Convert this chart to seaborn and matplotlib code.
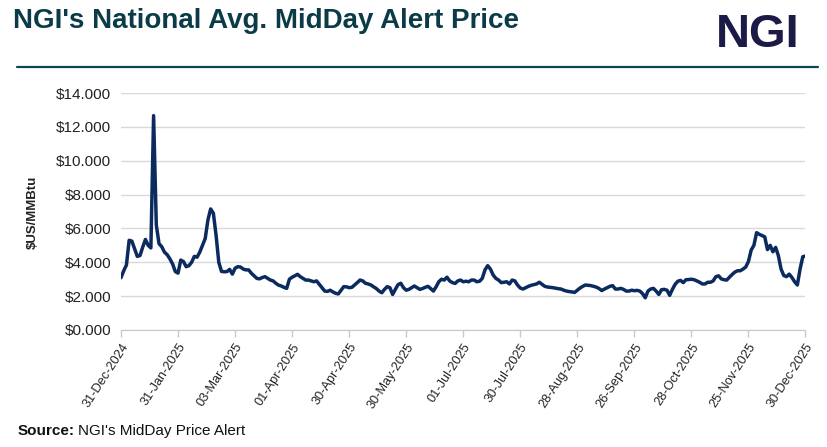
"""
NGI's National Avg. MidDay Alert Price - daily line chart
"""

import matplotlib
matplotlib.use("Agg")
import matplotlib.pyplot as plt
from matplotlib.lines import Line2D
from matplotlib import font_manager
import seaborn as sns
import numpy as np

# Tick labels on the x axis (one every 21 trading days)
tick_labels = ['31-Dec-2024', '31-Jan-2025', '03-Mar-2025', '01-Apr-2025',
               '30-Apr-2025', '30-May-2025', '01-Jul-2025', '30-Jul-2025',
               '28-Aug-2025', '26-Sep-2025', '28-Oct-2025', '25-Nov-2025',
               '30-Dec-2025']

# Daily national average price, $US/MMBtu
prices = [
    3.09, 3.50, 3.84, 5.30, 5.25, 4.80, 4.35, 4.40, 4.90, 5.35, 5.00, 4.85, 12.66, 6.20, 5.10, 4.92, 4.60, 4.45, 4.20, 3.90, 3.45,
    3.36, 4.13, 4.04, 3.74, 3.80, 4.00, 4.35, 4.30, 4.60, 5.00, 5.40, 6.50, 7.15, 6.90, 5.60, 4.00, 3.46, 3.44, 3.45, 3.58, 3.30,
    3.65, 3.74, 3.72, 3.60, 3.55, 3.55, 3.35, 3.20, 3.05, 3.02, 3.10, 3.15, 3.05, 2.95, 2.90, 2.76, 2.65, 2.60, 2.52, 2.46, 3.00,
    3.12, 3.20, 3.29, 3.15, 3.05, 2.95, 2.95, 2.90, 2.85, 2.90, 2.70, 2.50, 2.30, 2.28, 2.35, 2.25, 2.17, 2.13, 2.35, 2.56, 2.55,
    2.50, 2.52, 2.66, 2.80, 2.95, 2.90, 2.76, 2.72, 2.66, 2.55, 2.45, 2.30, 2.20, 2.40, 2.56, 2.50, 2.10, 2.40, 2.68, 2.76, 2.50,
    2.35, 2.40, 2.50, 2.60, 2.50, 2.40, 2.45, 2.52, 2.58, 2.45, 2.30, 2.55, 2.85, 3.00, 2.95, 3.12, 2.90, 2.80, 2.75, 2.90, 2.95,
    2.85, 2.88, 2.85, 2.95, 2.95, 2.85, 2.88, 3.05, 3.55, 3.80, 3.60, 3.25, 3.05, 2.95, 2.80, 2.82, 2.85, 2.72, 2.95, 2.90, 2.65,
    2.48, 2.42, 2.50, 2.58, 2.64, 2.68, 2.72, 2.82, 2.70, 2.58, 2.54, 2.52, 2.50, 2.47, 2.44, 2.42, 2.35, 2.30, 2.27, 2.25, 2.22,
    2.35, 2.48, 2.58, 2.66, 2.64, 2.62, 2.58, 2.53, 2.45, 2.33, 2.42, 2.50, 2.58, 2.62, 2.42, 2.42, 2.46, 2.40, 2.30, 2.30, 2.35,
    2.32, 2.34, 2.30, 2.15, 1.90, 2.30, 2.42, 2.46, 2.30, 2.10, 2.38, 2.40, 2.35, 2.05, 2.40, 2.70, 2.88, 2.93, 2.80, 2.97, 2.98,
    3.00, 2.97, 2.90, 2.82, 2.72, 2.72, 2.82, 2.82, 2.90, 3.15, 3.20, 3.02, 2.97, 2.95, 3.12, 3.28, 3.42, 3.50, 3.50, 3.60, 3.72,
    4.05, 4.72, 5.00, 5.75, 5.65, 5.58, 5.50, 4.75, 5.00, 4.62, 4.88, 4.40, 3.60, 3.22, 3.15, 3.30, 3.10, 2.85, 2.66, 3.60, 4.33, 4.37,
]

W, H = 828, 447

# Style
sns.set_style("white")
plt.rcParams['font.family'] = ['Liberation Sans', 'DejaVu Sans']

try:
    font_manager.findfont('Liberation Sans Narrow', fallback_to_default=False)
    narrow = ['Liberation Sans Narrow', 'Liberation Sans']
    title_size, logo_size = 22, 37
except ValueError:
    narrow = ['Liberation Sans', 'DejaVu Sans']
    title_size, logo_size = 20, 34

fig = plt.figure(figsize=(W / 100, H / 100), dpi=100)
ax = fig.add_axes([121 / W, 1 - 330 / H, (805.5 - 121) / W, (330 - 93) / H])

days = np.arange(len(prices))
sns.lineplot(x=days, y=prices, ax=ax, color='#0b2a5e', linewidth=2.5)

ax.set_xlim(0, len(prices) - 1)
ax.set_ylim(0, 14)
ax.set_yticks(np.arange(0, 15, 2))
ax.yaxis.set_major_formatter(plt.FuncFormatter(lambda v, p: f'${v:.3f}'))
ax.set_xticks(range(0, len(prices), 21))
ax.set_xticklabels(tick_labels, rotation=57, ha='right', rotation_mode='anchor', fontsize=9.2)
ax.set_xlabel('')
ax.set_ylabel('')

ax.grid(True, axis='y', color='#d9d9d9', linewidth=1)
ax.grid(False, axis='x')
for side in ['left', 'top', 'right']:
    ax.spines[side].set_visible(False)
ax.spines['bottom'].set_color('#c8c8c8')
ax.tick_params(axis='x', bottom=True, length=5, width=1, color='#c8c8c8',
               direction='out', pad=3, labelcolor='#222222')
ax.tick_params(axis='y', left=False, length=0, pad=7, labelsize=11, labelcolor='#222222')

# Header
fig.text(13 / W, 1 - 21 / H, "NGI's National Avg. MidDay Alert Price", fontsize=title_size,
         fontweight='bold', color='#0b3b47', family=narrow, va='center', ha='left')
fig.text(800 / W, 1 - 35 / H, 'NGI', fontsize=logo_size, fontweight='bold', color='#1c1a47',
         family=narrow, va='center', ha='right')
fig.add_artist(Line2D([17 / W, 818 / W], [1 - 67 / H, 1 - 67 / H], color='#0d4650', linewidth=1.6))

# Axis title
fig.text(33 / W, 1 - 212 / H, '$US/MMBtu', rotation=90, fontsize=9.5, fontweight='bold',
         color='#222222', ha='center', va='center')

# Source line
src = fig.text(18 / W, 1 - 431 / H, 'Source:', fontsize=11, fontweight='bold', color='#111111', va='center')
fig.canvas.draw()
bb = src.get_window_extent()
fig.text(bb.x1 / W + 3 / W, 1 - 431 / H, "NGI's MidDay Price Alert", fontsize=11, color='#111111', va='center')

fig.savefig('out.png', dpi=100)
